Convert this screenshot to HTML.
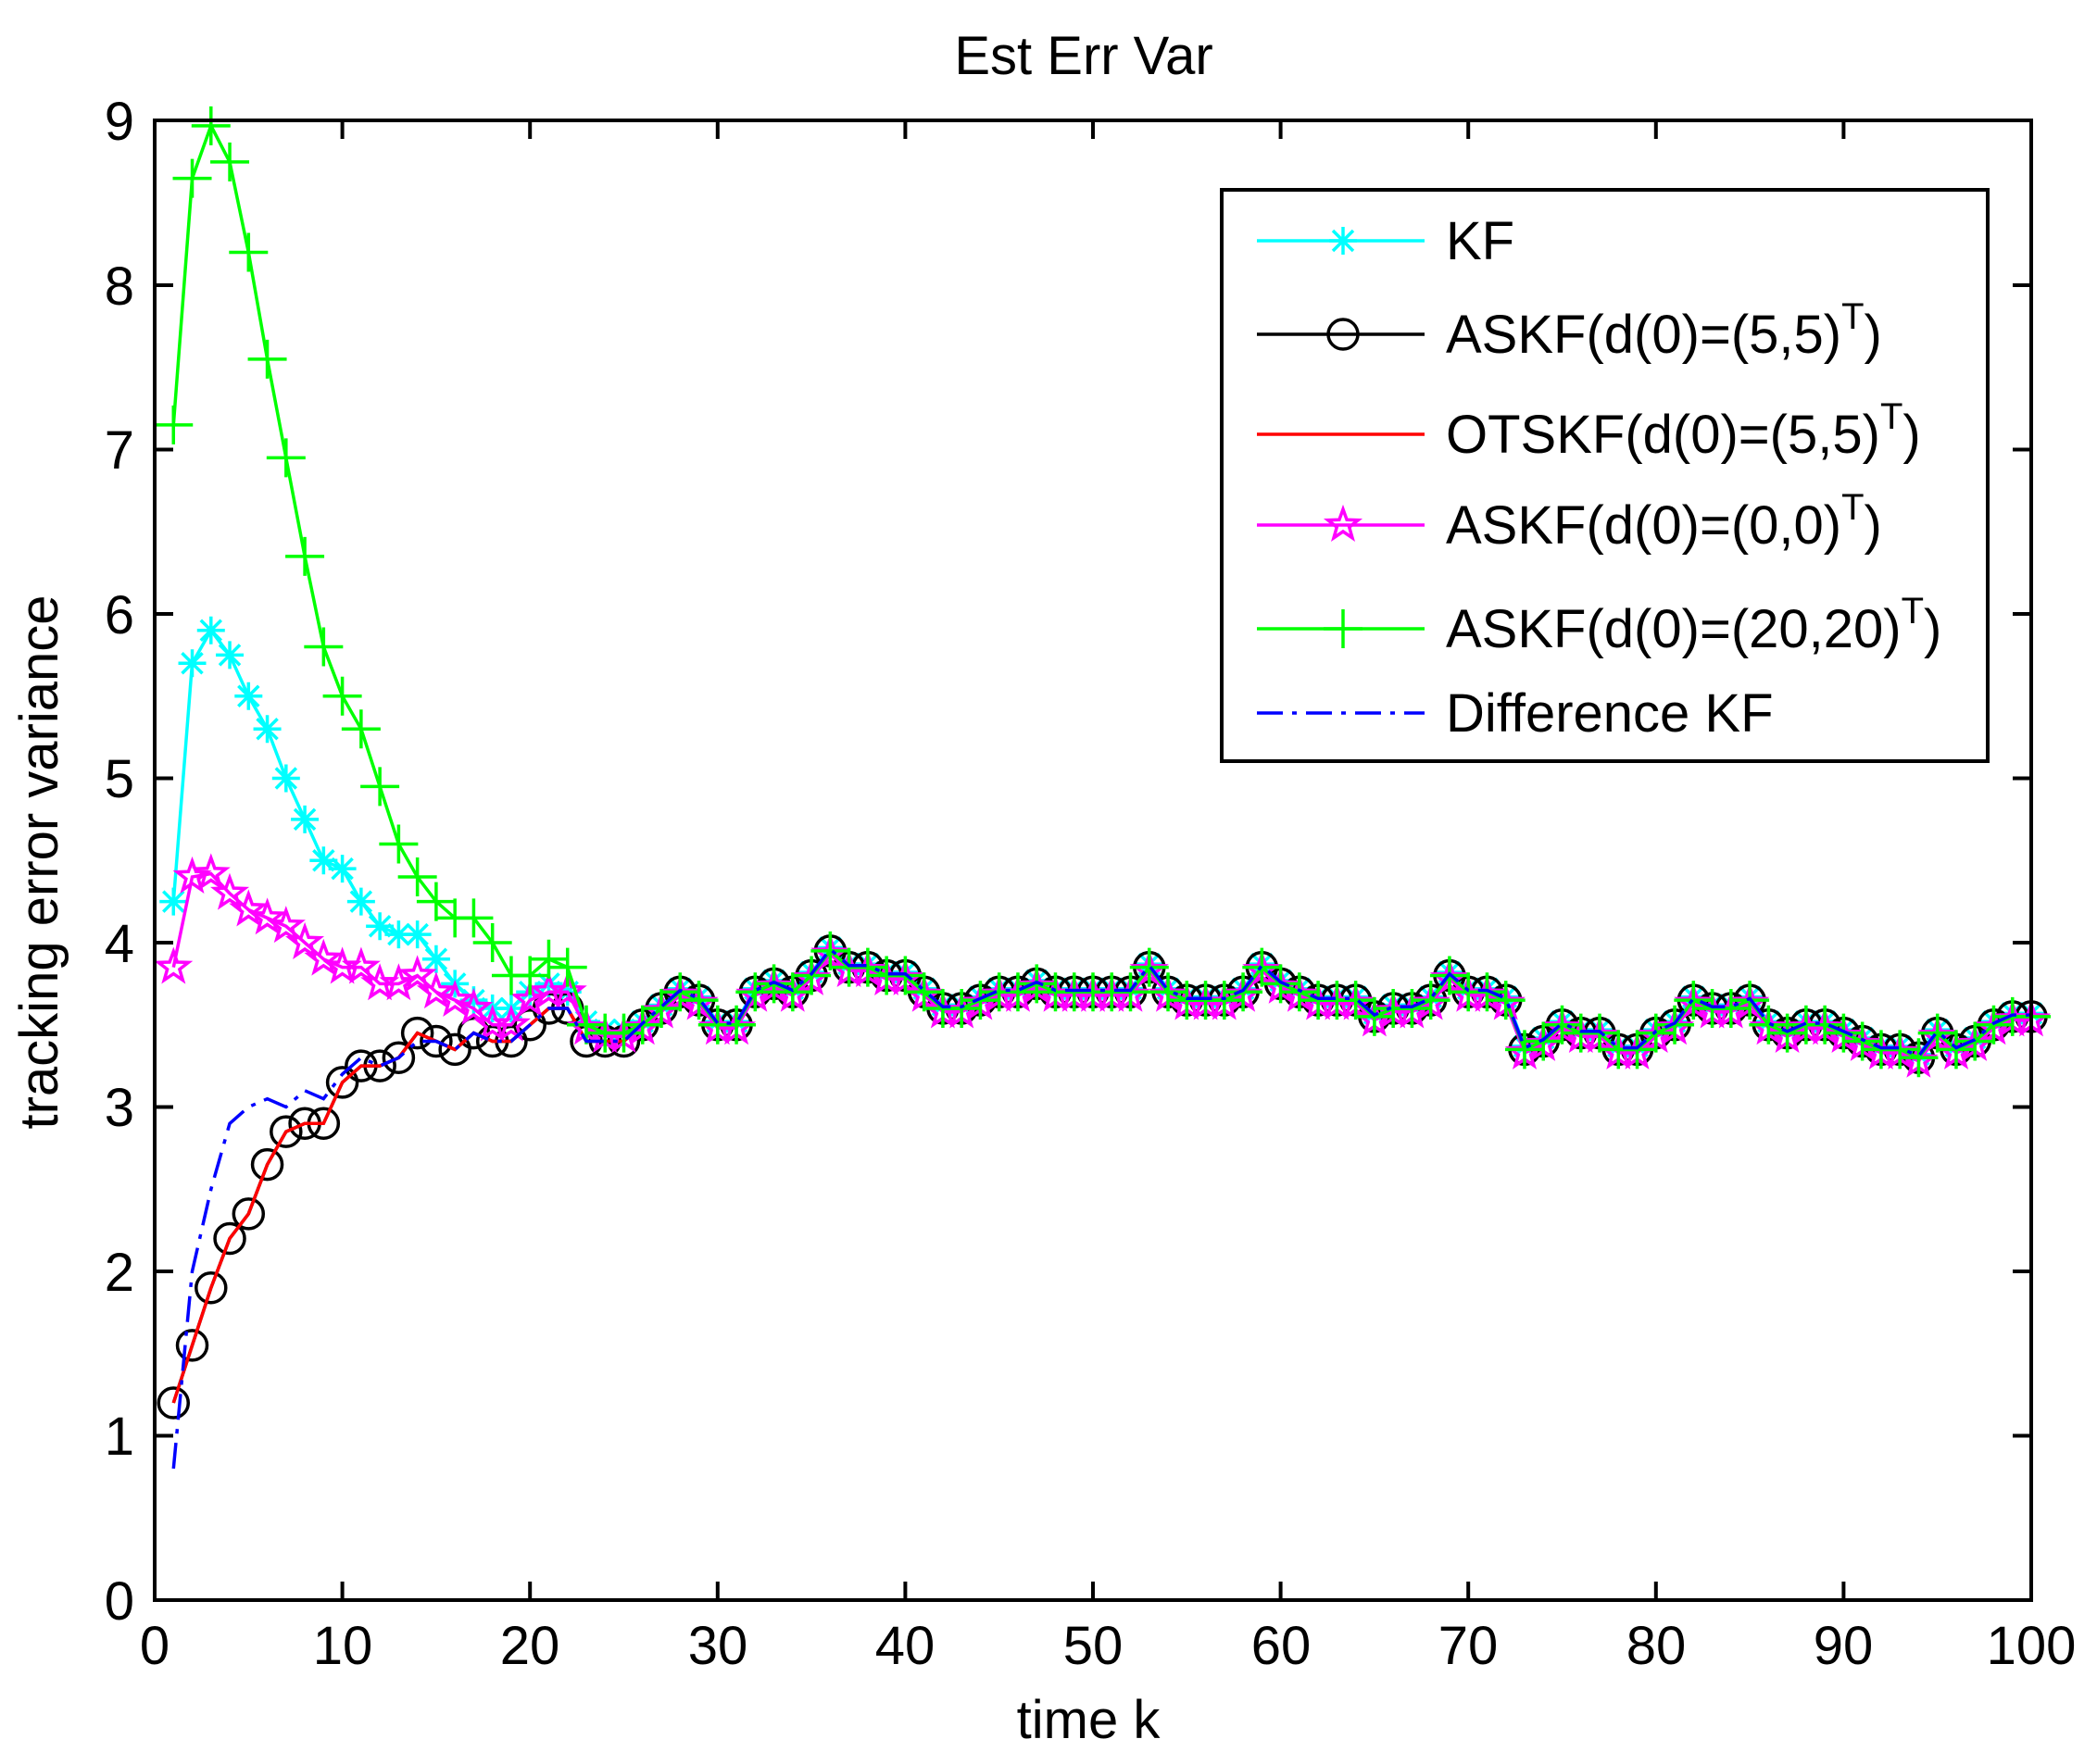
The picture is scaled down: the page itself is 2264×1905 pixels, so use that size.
<!DOCTYPE html>
<html><head><meta charset="utf-8">
<style>
html,body{margin:0;padding:0;background:#fff;}
svg{display:block;}
text{font-family:"Liberation Sans",Arial,sans-serif;fill:#000;}
</style></head>
<body>
<svg id="s" width="2264" height="1905" viewBox="0 0 2264 1905" xmlns="http://www.w3.org/2000/svg">
<rect x="0" y="0" width="2264" height="1905" fill="#fff"/>
<g id="series"></g>
<rect x="167" y="130" width="2026" height="1598" fill="none" stroke="#000" stroke-width="4"/>
<g id="ticks" stroke="#000" stroke-width="4"></g>
<g font-size="58" text-anchor="middle">
<text x="167" y="1797">0</text><text x="370" y="1797">10</text><text x="572" y="1797">20</text>
<text x="775" y="1797">30</text><text x="977" y="1797">40</text><text x="1180" y="1797">50</text>
<text x="1383" y="1797">60</text><text x="1585" y="1797">70</text><text x="1788" y="1797">80</text>
<text x="1990" y="1797">90</text><text x="2193" y="1797">100</text>
</g>
<g font-size="58" text-anchor="end">
<text x="145" y="1749">0</text><text x="145" y="1571">1</text><text x="145" y="1394">2</text>
<text x="145" y="1216">3</text><text x="145" y="1039">4</text><text x="145" y="861">5</text>
<text x="145" y="684">6</text><text x="145" y="506">7</text><text x="145" y="329">8</text>
<text x="145" y="151">9</text>
</g>
<text x="1170" y="80" font-size="58" text-anchor="middle">Est Err Var</text>
<text x="1175" y="1877" font-size="58" text-anchor="middle">time k</text>
<text x="0" y="0" font-size="58" text-anchor="middle" transform="translate(62,931) rotate(-90)">tracking error variance</text>
<rect x="1319" y="205" width="827" height="617" fill="#fff" stroke="#000" stroke-width="4"/>
<g id="leg"></g>
<g font-size="58">
<text x="1561" y="280">KF</text>
<text x="1561" y="381">ASKF(d(0)=(5,5)<tspan dy="-26" font-size="40">T</tspan><tspan dy="26">)</tspan></text>
<text x="1561" y="489">OTSKF(d(0)=(5,5)<tspan dy="-26" font-size="40">T</tspan><tspan dy="26">)</tspan></text>
<text x="1561" y="587">ASKF(d(0)=(0,0)<tspan dy="-26" font-size="40">T</tspan><tspan dy="26">)</tspan></text>
<text x="1561" y="699">ASKF(d(0)=(20,20)<tspan dy="-26" font-size="40">T</tspan><tspan dy="26">)</tspan></text>
<text x="1561" y="790">Difference KF</text>
</g>
</svg>
<script>
var NS="http://www.w3.org/2000/svg";
function X(k){return 167+k*20.26;}function Y(v){return 1728-v*177.5;}
function el(t,a,p){var e=document.createElementNS(NS,t);for(var k in a)e.setAttribute(k,a[k]);p.appendChild(e);return e;}
var tk=document.getElementById('ticks');
for(var i=1;i<10;i++){var x=X(i*10);el('line',{x1:x,y1:1728,x2:x,y2:1708},tk);el('line',{x1:x,y1:130,x2:x,y2:150},tk);}
for(var j=1;j<9;j++){var y=Y(j);el('line',{x1:167,y1:y,x2:187,y2:y},tk);el('line',{x1:2193,y1:y,x2:2173,y2:y},tk);}
var tail={23:3.5,24:3.45,25:3.45,26:3.5,27:3.6,28:3.7,29:3.65,30:3.5,31:3.5,32:3.7,33:3.75,34:3.7,35:3.8,36:3.95,37:3.85,38:3.85,39:3.8,40:3.8,41:3.7,42:3.6,43:3.6,44:3.65,45:3.7,46:3.7,47:3.75,48:3.7,49:3.7,50:3.7,51:3.7,52:3.7,53:3.85,54:3.7,55:3.65,56:3.65,57:3.65,58:3.7,59:3.85,60:3.75,61:3.7,62:3.65,63:3.65,64:3.65,65:3.55,66:3.6,67:3.6,68:3.65,69:3.8,70:3.7,71:3.7,72:3.65,73:3.35,74:3.4,75:3.5,76:3.45,77:3.45,78:3.35,79:3.35,80:3.45,81:3.5,82:3.65,83:3.6,84:3.6,85:3.65,86:3.5,87:3.45,88:3.5,89:3.5,90:3.45,91:3.4,92:3.35,93:3.35,94:3.3,95:3.45,96:3.35,97:3.4,98:3.5,99:3.55,100:3.55};
function mk(early,off){var a=[];for(var k=1;k<=100;k++){var v=(k<=early.length)?early[k-1]:tail[k]+(off||0);a.push([k,v]);}return a;}
var kf=mk([4.25,5.7,5.9,5.75,5.5,5.3,5.0,4.75,4.5,4.45,4.25,4.1,4.05,4.05,3.9,3.75,3.65,3.6,3.6,3.7,3.75,3.7],0.02);
var gr=mk([7.15,8.65,8.97,8.75,8.2,7.55,6.95,6.35,5.8,5.5,5.3,4.95,4.6,4.4,4.25,4.15,4.15,4.0,3.8,3.8,3.9,3.85]);
var mg=mk([3.85,4.4,4.42,4.3,4.2,4.15,4.1,4.0,3.9,3.85,3.85,3.75,3.75,3.8,3.7,3.65,3.6,3.5,3.5,3.65,3.7,3.7],-0.02);
var bk=mk([1.2,1.55,1.9,2.2,2.35,2.65,2.85,2.9,2.9,3.15,3.25,3.25,3.3,3.45,3.4,3.35,3.45,3.4,3.4,3.5,3.6,3.6,3.4,3.4,3.4]);
var bl=mk([0.8,2.0,2.5,2.9,3.0,3.05,3.0,3.1,3.05,3.2,3.3,3.25,3.3,3.4,3.4,3.35,3.45,3.4,3.4,3.5,3.6,3.6,3.4,3.4,3.4],0.01);
var g=document.getElementById('series');
function line(d,c,dash,p){var s='';d.forEach(function(q,i){s+=(i?'L':'M')+X(q[0]).toFixed(1)+' '+Y(q[1]).toFixed(1);});var a={d:s,fill:'none',stroke:c,'stroke-width':3.5};if(dash)a['stroke-dasharray']=dash;el('path',a,p);}
function marker(type,x,y,c,p){var a={fill:'none',stroke:c,'stroke-width':3.5};
 if(type=='o'){a.cx=x;a.cy=y;a.r=16;el('circle',a,p);}
 else if(type=='+'){a.d='M'+(x-21)+' '+y+'H'+(x+21)+'M'+x+' '+(y-21)+'V'+(y+21);el('path',a,p);}
 else if(type=='*'){var r=15,r2=11;a.d='M'+(x-r)+' '+y+'H'+(x+r)+'M'+x+' '+(y-r)+'V'+(y+r)+'M'+(x-r2)+' '+(y-r2)+'L'+(x+r2)+' '+(y+r2)+'M'+(x-r2)+' '+(y+r2)+'L'+(x+r2)+' '+(y-r2);el('path',a,p);}
 else if(type=='p'){var s='';for(var i=0;i<10;i++){var ang=-Math.PI/2+i*Math.PI/5,rr=i%2?7:17;s+=(i?'L':'M')+(x+rr*Math.cos(ang)).toFixed(1)+' '+(y+rr*Math.sin(ang)).toFixed(1);}a.d=s+'Z';el('path',a,p);}}
function series(d,c,m,dash){line(d,c,dash,g);if(m)d.forEach(function(q){marker(m,X(q[0]),Y(q[1]),c,g);});}
series(kf,'#00ffff','*');
series(bk,'#000000','o');
series(bk,'#ff0000',null);
series(mg,'#ff00ff','p');
series(gr,'#00ff00','+');
series(bl,'#0000ff',null,'28 10 5 10');
var lg=document.getElementById('leg');
var L=[[260,'#00ffff','*'],[361,'#000000','o'],[469,'#ff0000',null],[567,'#ff00ff','p'],[679,'#00ff00','+'],[770,'#0000ff',null,'28 10 5 10']];
L.forEach(function(e){var a={x1:1357,y1:e[0],x2:1538,y2:e[0],stroke:e[1],'stroke-width':3.5};if(e[3])a['stroke-dasharray']=e[3];el('line',a,lg);if(e[2])marker(e[2],1450,e[0],e[1],lg);});
</script>
</body></html>
